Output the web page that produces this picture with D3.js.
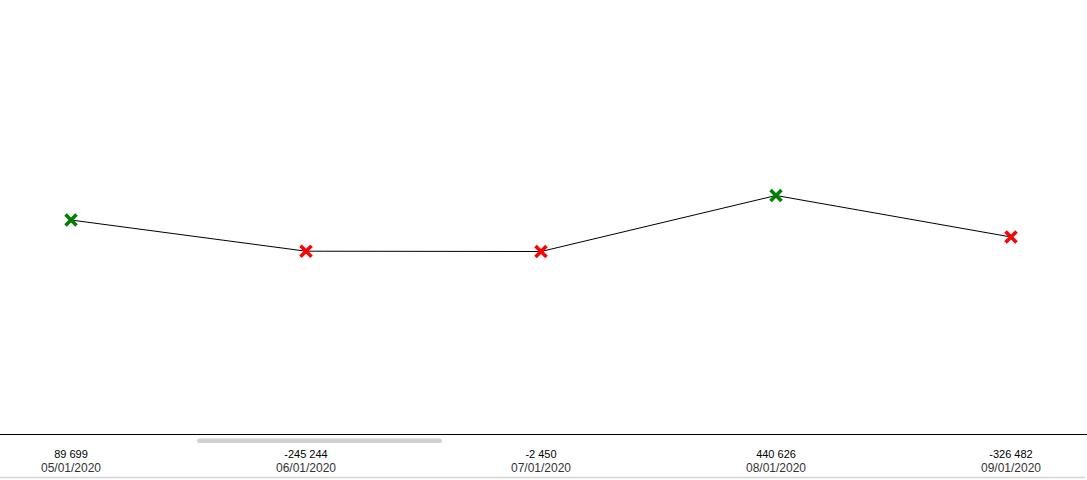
<!DOCTYPE html>
<html>
<head>
<meta charset="utf-8">
<script src="https://cdn.jsdelivr.net/npm/d3@7"></script>
<style>
html,body{margin:0;padding:0;background:#fff;}
svg{display:block;}
</style>
</head>
<body>
<svg id="chart" width="1087" height="480"></svg>
<script>
const dates = ["05/01/2020","06/01/2020","07/01/2020","08/01/2020","09/01/2020"];
const monthValues = [89699, -245244, -2450, 440626, -326482];
const plottedValues = [89699, -155545, -157995, 282631, -43851];
const valueLabels = ["89 699","-245 244","-2 450","440 626","-326 482"];

const W = 1087, H = 480;
const svg = d3.select("#chart");

const x = d3.scalePoint().domain(dates).range([71, 1011]);
const y = d3.scaleLinear().domain([-1594000, 1821000]).range([434, 0]);

const pts = dates.map((d,i)=>({date:d, v:plottedValues[i], m:monthValues[i], label:valueLabels[i]}));

svg.append("path")
  .datum(pts)
  .attr("fill","none")
  .attr("stroke","#000")
  .attr("stroke-width",1)
  .attr("d", d3.line().x(d=>x(d.date)).y(d=>y(d.v)));

const s = 5.5;
const mk = svg.append("g").selectAll("g").data(pts).join("g")
  .attr("transform", d=>`translate(${x(d.date)},${y(d.v)})`)
  .attr("stroke", d=> d.m >= 0 ? "#008000" : "#ff0000")
  .attr("stroke-width", 3.5);
mk.append("line").attr("x1",-s).attr("y1",-s).attr("x2",s).attr("y2",s);
mk.append("line").attr("x1",-s).attr("y1",s).attr("x2",s).attr("y2",-s);

// axis line
const axisG = svg.append("g").attr("transform","translate(0,434)");
const xAxis = d3.axisBottom(x).tickSize(0).tickFormat("");
axisG.call(xAxis);
axisG.select(".domain").attr("d","M0,0.5H1087").attr("stroke","#000").attr("stroke-width",1.2);

// scrollbar
svg.append("rect").attr("x",197).attr("y",438.5).attr("width",245).attr("height",4.5)
  .attr("rx",2.2).attr("fill","#d0d0d0");

// labels
const lab = svg.append("g").selectAll("g").data(pts).join("g")
  .attr("transform", d=>`translate(${x(d.date)},0)`);
lab.append("text").attr("y",458).attr("text-anchor","middle")
  .attr("font-family","Liberation Sans, Arial, sans-serif").attr("font-size",11)
  .attr("fill","#000").text(d=>d.label);
lab.append("text").attr("y",472).attr("text-anchor","middle")
  .attr("font-family","Liberation Sans, Arial, sans-serif").attr("font-size",12)
  .attr("fill","#333").text(d=>d.date);

// bottom line
svg.append("line").attr("x1",0).attr("x2",1085).attr("y1",477.5).attr("y2",477.5)
  .attr("stroke","#d4d4d4").attr("stroke-width",1.5);
</script>
</body>
</html>
